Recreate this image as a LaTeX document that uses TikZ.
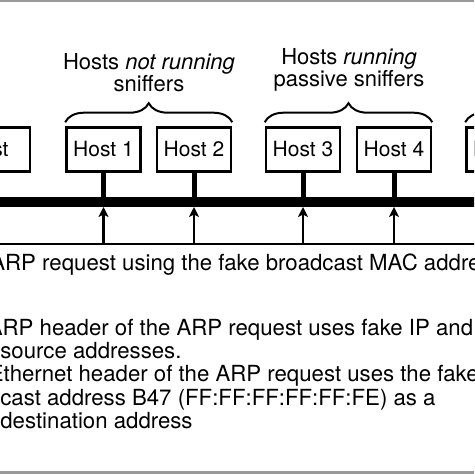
\documentclass[tikz,border=0pt]{standalone}
\usepackage{fontspec}
\setmainfont{TeX Gyre Heros}
\usetikzlibrary{arrows.meta,decorations.pathreplacing}

\begin{document}
\begin{tikzpicture}[x=0.5pt, y=-0.5pt,
                    host/.style={draw, line width=1.3pt, minimum width=37pt,
                                 minimum height=22pt, inner sep=0pt,
                                 font=\fontsize{10.5}{12}\selectfont},
                    title/.style={align=center, inner sep=0pt, anchor=south,
                                  font=\fontsize{11}{11}\selectfont},
                    txt/.style={anchor=base west, inner sep=0pt,
                                font=\fontsize{11.1}{13}\selectfont},
                    stem/.style={line width=2.5pt},
                    brc/.style={decorate, line width=1pt,
                                decoration={brace, amplitude=9.5pt}},
                    up/.style={-{Stealth[length=5pt, width=5pt, inset=1.2pt]},
                               line width=1.2pt}]
  \useasboundingbox (0,0) rectangle (474,474);
  \clip (0,0) rectangle (474,474);
  % rėmelio juostos
  \fill[black!40] (0,0) rectangle (474,2);
  \fill[black!40] (0,471) rectangle (474,474);
  % kompiuteriai
  \node[host, minimum width=43pt] (h0) at (-13,149.5) {Host};
  \node[host] (h1) at (103.5,149.5) {Host 1};
  \node[host] (h2) at (194,149.5) {Host 2};
  \node[host] (h3) at (303,149.5) {Host 3};
  \node[host] (h4) at (394,149.5) {Host 4};
  \node[host] (h5) at (503.5,149.5) {Host 5};
  % magistralė
  \coordinate (busL) at (-10,202);
  \coordinate (busR) at (484,202);
  \coordinate (busB) at (0,207);
  \draw[line width=5pt] (busL) -- (busR);
  \foreach \h in {h0,h1,h2,h3,h4,h5}
    \draw[stem] (\h.south) -- (\h.south |- busL);
  % užklausa
  \coordinate (lnL) at (-10,244);
  \coordinate (lnR) at (484,244);
  \draw[line width=1.3pt] (lnL) -- (lnR);
  \foreach \h in {h1,h2,h3,h4}
    \draw[up] (\h.south |- lnL) -- (\h.south |- busB);
  % grupės
  \draw[brc] ([yshift=2pt]h1.north west) -- ([yshift=2pt]h2.north east);
  \draw[brc] ([yshift=2pt]h3.north west) -- ([yshift=2pt]h4.north east);
  \draw[brc] ([yshift=2pt]h5.north west) -- ++(169,0);
  \node[title] (t1) at (149,92) {Hosts \textit{not running}\\sniffers};
  \node[title] (t2) at (349,92) {Hosts \textit{running}\\passive sniffers};
  % tekstas
  \node[txt] (req) at (-10,271) {ARP request using the fake broadcast MAC address};
  \node[txt] (l1) at (-12.5,335) {ARP header of the ARP request uses fake IP and};
  \node[txt] (l2) at (0,358) {source addresses.};
  \node[txt] (l3) at (-11.5,381.5) {Ethernet header of the ARP request uses the fake};
  \node[txt] (l4) at (0,405) {cast address B47 (FF:FF:FF:FF:FF:FE) as a};
  \node[txt] (l5) at (0,428) {destination address};
\end{tikzpicture}
\end{document}
